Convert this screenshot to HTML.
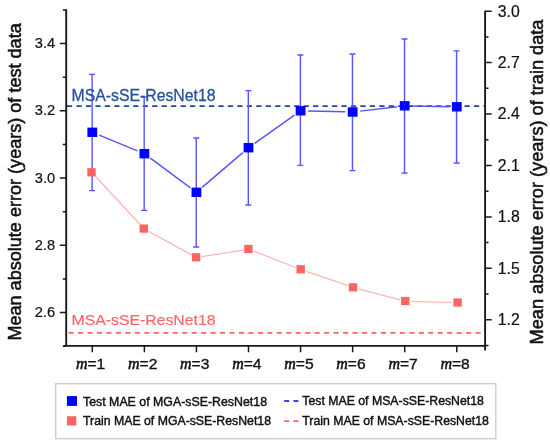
<!DOCTYPE html>
<html lang="en"><head><meta charset="utf-8"><title>MAE chart</title>
<style>html,body{margin:0;padding:0;background:#fff}svg{display:block;filter:blur(0.35px)}</style></head>
<body>
<svg width="550" height="446" viewBox="0 0 550 446">
<rect width="550" height="446" fill="#fff"/>
<line x1="67.0" x2="485.1" y1="106" y2="106" stroke="#1f4794" stroke-width="1.75" stroke-dasharray="5.2 4.265"/>
<line x1="68.6" x2="485.1" y1="332.8" y2="332.8" stroke="#ff6464" stroke-width="1.8" stroke-dasharray="5 4.465"/>
<path d="M92.1 74.4V190.6M89.1 74.4H95.1M89.1 190.6H95.1" stroke="#5555ff" stroke-width="1.4" fill="none"/>
<path d="M144.17 97V210.4M141.17 97H147.17M141.17 210.4H147.17" stroke="#5555ff" stroke-width="1.4" fill="none"/>
<path d="M196.24 138V247M193.24 138H199.24M193.24 247H199.24" stroke="#5555ff" stroke-width="1.4" fill="none"/>
<path d="M248.31 90.6V205M245.31 90.6H251.31M245.31 205H251.31" stroke="#5555ff" stroke-width="1.4" fill="none"/>
<path d="M300.38 55V165.4M297.38 55H303.38M297.38 165.4H303.38" stroke="#5555ff" stroke-width="1.4" fill="none"/>
<path d="M352.45 54V170.6M349.45 54H355.45M349.45 170.6H355.45" stroke="#5555ff" stroke-width="1.4" fill="none"/>
<path d="M404.52 39V173M401.52 39H407.52M401.52 173H407.52" stroke="#5555ff" stroke-width="1.4" fill="none"/>
<path d="M456.59 50.9V163M453.59 50.9H459.59M453.59 163H459.59" stroke="#5555ff" stroke-width="1.4" fill="none"/>
<line x1="99.24" y1="135.15" x2="137.43" y2="150.85" stroke="#5555ff" stroke-width="1.45"/>
<line x1="95.54" y1="176.53" x2="140.36" y2="224.77" stroke="#ffb6b6" stroke-width="1.3"/>
<line x1="150.40" y1="158.17" x2="190.41" y2="187.83" stroke="#5555ff" stroke-width="1.45"/>
<line x1="148.92" y1="231.45" x2="191.58" y2="254.85" stroke="#ffb6b6" stroke-width="1.3"/>
<line x1="202.14" y1="187.42" x2="242.81" y2="152.58" stroke="#5555ff" stroke-width="1.45"/>
<line x1="201.83" y1="256.64" x2="243.27" y2="250.06" stroke="#ffb6b6" stroke-width="1.3"/>
<line x1="254.63" y1="143.36" x2="294.46" y2="115.14" stroke="#5555ff" stroke-width="1.45"/>
<line x1="253.83" y1="251.19" x2="295.87" y2="267.51" stroke="#ffb6b6" stroke-width="1.3"/>
<line x1="308.08" y1="110.97" x2="345.15" y2="111.83" stroke="#5555ff" stroke-width="1.45"/>
<line x1="306.20" y1="271.29" x2="348.10" y2="285.71" stroke="#ffb6b6" stroke-width="1.3"/>
<line x1="360.10" y1="111.11" x2="397.27" y2="106.69" stroke="#5555ff" stroke-width="1.45"/>
<line x1="358.62" y1="288.89" x2="400.28" y2="299.81" stroke="#ffb6b6" stroke-width="1.3"/>
<line x1="412.22" y1="105.94" x2="449.29" y2="106.66" stroke="#5555ff" stroke-width="1.45"/>
<line x1="411.10" y1="301.36" x2="452.40" y2="302.54" stroke="#ffb6b6" stroke-width="1.3"/>
<rect x="87.30" y="168.20" width="8.4" height="8.2" fill="#fc6363"/>
<rect x="139.60" y="224.50" width="8.4" height="8.2" fill="#fc6363"/>
<rect x="191.90" y="253.20" width="8.4" height="8.2" fill="#fc6363"/>
<rect x="244.20" y="244.90" width="8.4" height="8.2" fill="#fc6363"/>
<rect x="296.50" y="265.20" width="8.4" height="8.2" fill="#fc6363"/>
<rect x="348.80" y="283.20" width="8.4" height="8.2" fill="#fc6363"/>
<rect x="401.10" y="296.90" width="8.4" height="8.2" fill="#fc6363"/>
<rect x="453.40" y="298.40" width="8.4" height="8.2" fill="#fc6363"/>
<rect x="87.40" y="127.60" width="9.8" height="9.4" fill="#0000ff"/>
<rect x="139.47" y="149.00" width="9.8" height="9.4" fill="#0000ff"/>
<rect x="191.54" y="187.60" width="9.8" height="9.4" fill="#0000ff"/>
<rect x="243.61" y="143.00" width="9.8" height="9.4" fill="#0000ff"/>
<rect x="295.68" y="106.10" width="9.8" height="9.4" fill="#0000ff"/>
<rect x="347.75" y="107.30" width="9.8" height="9.4" fill="#0000ff"/>
<rect x="399.82" y="101.10" width="9.8" height="9.4" fill="#0000ff"/>
<rect x="451.89" y="102.10" width="9.8" height="9.4" fill="#0000ff"/>
<path d="M66.2 9.15V345.8M485.1 10.8V350.6" stroke="#1a1a1a" stroke-width="1.9" fill="none"/>
<path d="M63.6 345.8H485.85" stroke="#1a1a1a" stroke-width="1.7" fill="none"/>
<path d="M66.2 346.22h-3.4M66.2 312.60h-6.4M66.2 278.97h-3.4M66.2 245.35h-6.4M66.2 211.72h-3.4M66.2 178.10h-6.4M66.2 144.47h-3.4M66.2 110.85h-6.4M66.2 77.23h-3.4M66.2 43.60h-6.4M66.2 9.97h-3.4M485.1 345.43h3.4M485.1 319.72h6.6M485.1 294.01h3.4M485.1 268.30h6.6M485.1 242.59h3.4M485.1 216.88h6.6M485.1 191.17h3.4M485.1 165.46h6.6M485.1 139.75h3.4M485.1 114.04h6.6M485.1 88.33h3.4M485.1 62.62h6.6M485.1 36.91h3.4M485.1 11.20h6.6M92.3 345.8v6.4M144.37 345.8v6.4M196.44 345.8v6.4M248.51 345.8v6.4M300.58 345.8v6.4M352.65000000000003 345.8v6.4M404.72 345.8v6.4M456.79 345.8v6.4" stroke="#1a1a1a" stroke-width="1.5" fill="none"/>
<text x="55.2" y="317.20" text-anchor="end" font-family="Liberation Sans, Arial, sans-serif" font-size="14.7" fill="#111" stroke="#111" stroke-width="0.2">2.6</text>
<text x="55.2" y="249.95" text-anchor="end" font-family="Liberation Sans, Arial, sans-serif" font-size="14.7" fill="#111" stroke="#111" stroke-width="0.2">2.8</text>
<text x="55.2" y="182.70" text-anchor="end" font-family="Liberation Sans, Arial, sans-serif" font-size="14.7" fill="#111" stroke="#111" stroke-width="0.2">3.0</text>
<text x="55.2" y="115.45" text-anchor="end" font-family="Liberation Sans, Arial, sans-serif" font-size="14.7" fill="#111" stroke="#111" stroke-width="0.2">3.2</text>
<text x="55.2" y="48.20" text-anchor="end" font-family="Liberation Sans, Arial, sans-serif" font-size="14.7" fill="#111" stroke="#111" stroke-width="0.2">3.4</text>
<text x="497.7" y="325.02" font-family="Liberation Sans, Arial, sans-serif" font-size="15.8" fill="#111" stroke="#111" stroke-width="0.2" textLength="22" lengthAdjust="spacingAndGlyphs">1.2</text>
<text x="497.7" y="273.60" font-family="Liberation Sans, Arial, sans-serif" font-size="15.8" fill="#111" stroke="#111" stroke-width="0.2" textLength="22" lengthAdjust="spacingAndGlyphs">1.5</text>
<text x="497.7" y="222.18" font-family="Liberation Sans, Arial, sans-serif" font-size="15.8" fill="#111" stroke="#111" stroke-width="0.2" textLength="22" lengthAdjust="spacingAndGlyphs">1.8</text>
<text x="497.7" y="170.76" font-family="Liberation Sans, Arial, sans-serif" font-size="15.8" fill="#111" stroke="#111" stroke-width="0.2" textLength="22" lengthAdjust="spacingAndGlyphs">2.1</text>
<text x="497.7" y="119.34" font-family="Liberation Sans, Arial, sans-serif" font-size="15.8" fill="#111" stroke="#111" stroke-width="0.2" textLength="22" lengthAdjust="spacingAndGlyphs">2.4</text>
<text x="497.7" y="67.92" font-family="Liberation Sans, Arial, sans-serif" font-size="15.8" fill="#111" stroke="#111" stroke-width="0.2" textLength="22" lengthAdjust="spacingAndGlyphs">2.7</text>
<text x="497.7" y="16.50" font-family="Liberation Sans, Arial, sans-serif" font-size="15.8" fill="#111" stroke="#111" stroke-width="0.2" textLength="22" lengthAdjust="spacingAndGlyphs">3.0</text>
<text x="76.00" y="368.8" font-family="Liberation Serif, serif" font-style="italic" font-size="15.8" fill="#111" stroke="#111" stroke-width="0.5" textLength="11.6" lengthAdjust="spacingAndGlyphs">m</text>
<text x="87.50" y="368.8" font-family="Liberation Sans, Arial, sans-serif" font-size="15" fill="#111" stroke="#111" stroke-width="0.35" textLength="17.8" lengthAdjust="spacingAndGlyphs">=1</text>
<text x="128.07" y="368.8" font-family="Liberation Serif, serif" font-style="italic" font-size="15.8" fill="#111" stroke="#111" stroke-width="0.5" textLength="11.6" lengthAdjust="spacingAndGlyphs">m</text>
<text x="139.57" y="368.8" font-family="Liberation Sans, Arial, sans-serif" font-size="15" fill="#111" stroke="#111" stroke-width="0.35" textLength="17.8" lengthAdjust="spacingAndGlyphs">=2</text>
<text x="180.14" y="368.8" font-family="Liberation Serif, serif" font-style="italic" font-size="15.8" fill="#111" stroke="#111" stroke-width="0.5" textLength="11.6" lengthAdjust="spacingAndGlyphs">m</text>
<text x="191.64" y="368.8" font-family="Liberation Sans, Arial, sans-serif" font-size="15" fill="#111" stroke="#111" stroke-width="0.35" textLength="17.8" lengthAdjust="spacingAndGlyphs">=3</text>
<text x="232.21" y="368.8" font-family="Liberation Serif, serif" font-style="italic" font-size="15.8" fill="#111" stroke="#111" stroke-width="0.5" textLength="11.6" lengthAdjust="spacingAndGlyphs">m</text>
<text x="243.71" y="368.8" font-family="Liberation Sans, Arial, sans-serif" font-size="15" fill="#111" stroke="#111" stroke-width="0.35" textLength="17.8" lengthAdjust="spacingAndGlyphs">=4</text>
<text x="284.28" y="368.8" font-family="Liberation Serif, serif" font-style="italic" font-size="15.8" fill="#111" stroke="#111" stroke-width="0.5" textLength="11.6" lengthAdjust="spacingAndGlyphs">m</text>
<text x="295.78" y="368.8" font-family="Liberation Sans, Arial, sans-serif" font-size="15" fill="#111" stroke="#111" stroke-width="0.35" textLength="17.8" lengthAdjust="spacingAndGlyphs">=5</text>
<text x="336.35" y="368.8" font-family="Liberation Serif, serif" font-style="italic" font-size="15.8" fill="#111" stroke="#111" stroke-width="0.5" textLength="11.6" lengthAdjust="spacingAndGlyphs">m</text>
<text x="347.85" y="368.8" font-family="Liberation Sans, Arial, sans-serif" font-size="15" fill="#111" stroke="#111" stroke-width="0.35" textLength="17.8" lengthAdjust="spacingAndGlyphs">=6</text>
<text x="388.42" y="368.8" font-family="Liberation Serif, serif" font-style="italic" font-size="15.8" fill="#111" stroke="#111" stroke-width="0.5" textLength="11.6" lengthAdjust="spacingAndGlyphs">m</text>
<text x="399.92" y="368.8" font-family="Liberation Sans, Arial, sans-serif" font-size="15" fill="#111" stroke="#111" stroke-width="0.35" textLength="17.8" lengthAdjust="spacingAndGlyphs">=7</text>
<text x="440.49" y="368.8" font-family="Liberation Serif, serif" font-style="italic" font-size="15.8" fill="#111" stroke="#111" stroke-width="0.5" textLength="11.6" lengthAdjust="spacingAndGlyphs">m</text>
<text x="451.99" y="368.8" font-family="Liberation Sans, Arial, sans-serif" font-size="15" fill="#111" stroke="#111" stroke-width="0.35" textLength="17.8" lengthAdjust="spacingAndGlyphs">=8</text>
<text x="71.5" y="101.3" font-family="Liberation Sans, Arial, sans-serif" font-size="15.6" fill="#27509a" stroke="#27509a" stroke-width="0.28" textLength="144" lengthAdjust="spacingAndGlyphs">MSA-sSE-ResNet18</text>
<text x="71.5" y="324.6" font-family="Liberation Sans, Arial, sans-serif" font-size="15.5" fill="#ff6666" stroke="#ff6666" stroke-width="0.2" textLength="144" lengthAdjust="spacingAndGlyphs">MSA-sSE-ResNet18</text>
<text transform="translate(21.2 340.6) rotate(-90)" font-family="Liberation Sans, Arial, sans-serif" font-size="17.5" fill="#111" stroke="#111" stroke-width="0.5" textLength="317.3" lengthAdjust="spacingAndGlyphs">Mean absolute error (years) of test data</text>
<text transform="translate(542.8 344.4) rotate(-90)" font-family="Liberation Sans, Arial, sans-serif" font-size="17.5" fill="#111" stroke="#111" stroke-width="0.5" textLength="324.8" lengthAdjust="spacingAndGlyphs">Mean absolute error (years) of train data</text>
<rect x="55.7" y="383.7" width="440.1" height="55" fill="#fff" stroke="#c9c9c9" stroke-width="1.3"/>
<rect x="66.9" y="396.1" width="10.1" height="9.8" fill="#0000ff"/>
<rect x="67" y="416.2" width="9.3" height="9.3" fill="#fc6363"/>
<text x="83.0" y="405.7" font-family="Liberation Sans, Arial, sans-serif" font-size="13.3" fill="#111" stroke="#111" stroke-width="0.45" lengthAdjust="spacingAndGlyphs" textLength="184">Test MAE of MGA-sSE-ResNet18</text>
<text x="83.0" y="425.3" font-family="Liberation Sans, Arial, sans-serif" font-size="13.3" fill="#111" stroke="#111" stroke-width="0.45" lengthAdjust="spacingAndGlyphs" textLength="188">Train MAE of MGA-sSE-ResNet18</text>
<line x1="284.2" x2="298.8" y1="401" y2="401" stroke="#0000ff" stroke-width="1.7" stroke-dasharray="4.9 4.4"/>
<line x1="284.2" x2="298.8" y1="421.2" y2="421.2" stroke="#ff6464" stroke-width="1.7" stroke-dasharray="4.9 4.4"/>
<text x="302.3" y="405.4" font-family="Liberation Sans, Arial, sans-serif" font-size="13.3" fill="#111" stroke="#111" stroke-width="0.45" lengthAdjust="spacingAndGlyphs" textLength="181.6">Test MAE of MSA-sSE-ResNet18</text>
<text x="302.3" y="424.8" font-family="Liberation Sans, Arial, sans-serif" font-size="13.3" fill="#111" stroke="#111" stroke-width="0.45" lengthAdjust="spacingAndGlyphs" textLength="186.6">Train MAE of MSA-sSE-ResNet18</text>
</svg>
</body></html>
